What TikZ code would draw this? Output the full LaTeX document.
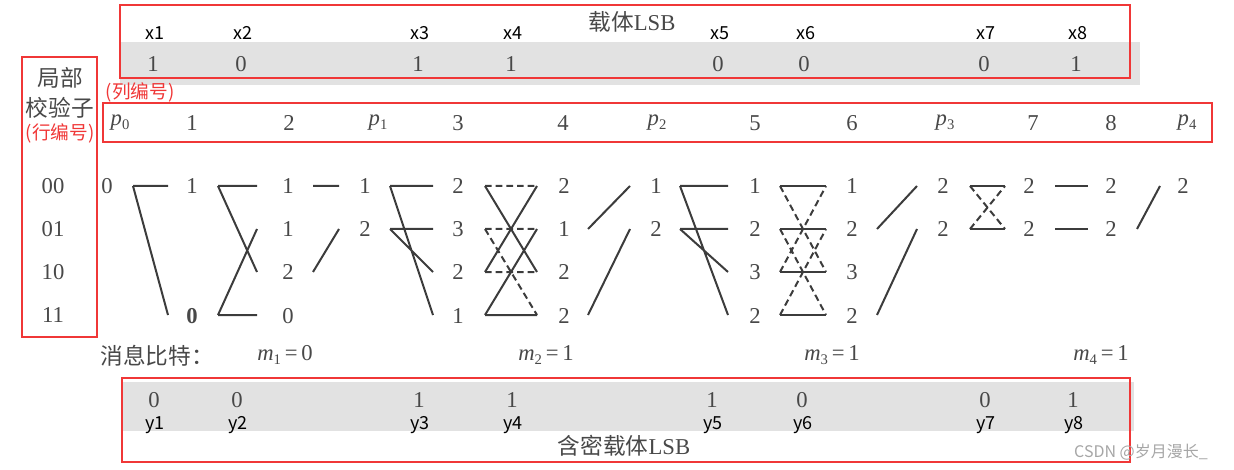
\documentclass[tikz,border=0pt]{standalone}
\usepackage{fontspec}
\setmainfont{Liberation Serif}
\newfontfamily\cjk{Noto Sans CJK SC}
\definecolor{ink}{RGB}{72,72,72}
\definecolor{lineink}{RGB}{60,60,60}
\definecolor{band}{RGB}{226,226,226}
\definecolor{redbox}{RGB}{240,55,55}
\newcommand{\pp}[1]{\textit{p}\raisebox{-0.35ex}{\fontsize{11}{11}\selectfont #1}}
\newcommand{\mm}[2]{\textit{m}\raisebox{-0.45ex}{\fontsize{11}{11}\selectfont #1}\,=\,#2}
\begin{document}
\begin{tikzpicture}[x=0.75pt,y=-0.75pt,
  dig/.style={font=\fontsize{17}{17}\selectfont, text=ink, inner sep=0pt},
  lab/.style={font=\cjk\fontsize{13.5}{14}\selectfont, text=black, inner sep=0pt},
  redlab/.style={font=\cjk\fontsize{14}{14}\selectfont, text=redbox, inner sep=0pt},
  title/.style={font=\cjk\fontsize{17}{17}\selectfont, text=ink, inner sep=0pt},
  box/.style={draw=redbox, line width=1pt},
  tr/.style={draw=lineink, line width=1.5pt},
  trd/.style={tr, dash pattern=on 5pt off 3pt},
]
\useasboundingbox (0,0) rectangle (1234,470);
% gray bands
\fill[band] (120,42) rectangle (1140,85);
\fill[band] (122,382) rectangle (1134,431);
% red boxes
\draw[box] (120,5) rectangle (1130,78);
\draw[box] (103,103) rectangle (1212,142);
\draw[box] (22,57) rectangle (97,337);
\draw[box] (122,378) rectangle (1130,462);

% top carrier
\node[title] (ttop) at (632,22) {载体\rmfamily LSB};
\foreach \i/\xx/\v in {1/155/1,2/243/0,3/420/1,4/513/1,5/720/0,6/806/0,7/986/0,8/1078/1}{
  \node[lab] (x\i) at (\xx,33) {x\i};
  \node[dig] (xv\i) at (\xx-2,64) {\v};
}

% left labels
\node[title] (lj1) at (60,78) {局部};
\node[title] (lj2) at (60,108) {校验子};
\node[redlab] (hang) at (60,133) {(行编号)};
\node[redlab] (lie) at (140,92) {(列编号)};
\foreach \i/\t/\yy in {0/00/186,1/01/229,2/10/272,3/11/315}{
  \node[dig] (row\i) at (53,\yy) {\t};
}

% header
\foreach \n/\xx/\t in {h0/120/\pp{0},h1/192/1,h2/289/2,h3/378/\pp{1},h4/458/3,h5/563/4,h6/657/\pp{2},h7/755/5,h8/852/6,h9/945/\pp{3},h10/1033/7,h11/1111/8,h12/1187/\pp{4}}{
  \node[dig] (\n) at (\xx,123) {\t};
}

% trellis values
\node[dig] (p0a) at (107,186) {0};
\node[dig] (c1a) at (192,186) {1};
\node[dig] (c1d) at (192,316) {\bfseries 0};
\foreach \xx/\c/\a/\b/\cc/\d in {288/c2/1/1/2/0, 458/c3/2/3/2/1, 564/c4/2/1/2/2, 755/c5/1/2/3/2, 852/c6/1/2/3/2}{
  \node[dig] (\c a) at (\xx,186) {\a};
  \node[dig] (\c b) at (\xx,229) {\b};
  \node[dig] (\c c) at (\xx,272) {\cc};
  \node[dig] (\c d) at (\xx,316) {\d};
}
\foreach \xx/\c/\a/\b in {365/p1/1/2, 656/p2/1/2, 943/p3/2/2, 1029/c7/2/2, 1111/c8/2/2}{
  \node[dig] (\c a) at (\xx,186) {\a};
  \node[dig] (\c b) at (\xx,229) {\b};
}
\node[dig] (p4a) at (1183,186) {2};

% trellis anchor coordinates
\foreach \g/\xl/\xr in {A/133/168, B/218/257, C/313/339, D/390/433, E/485/537, F/588/630, G/680/728, H/780/826, I/877/917, J/970/1005, K/1055/1088, L/1137/1160}{
  \foreach \r/\yy in {0/186,1/229,2/272,3/315}{
    \coordinate (\g L\r) at (\xl,\yy);
    \coordinate (\g R\r) at (\xr,\yy);
  }
}
\draw[tr] (AL0) -- (AR0) (AL0) -- (AR3);
\draw[tr] (BL0) -- (BR0) (BL0) -- (BR2) (BL3) -- (BR1) (BL3) -- (BR3);
\draw[tr] (CL0) -- (CR0) (CL2) -- (CR1);
\draw[tr] (DL0) -- (DR0) (DL0) -- (DR3) (DL1) -- (DR1) (DL1) -- (DR2);
\draw[trd] (EL0) -- (ER0) (EL1) -- (ER1) (EL1) -- (ER3) (EL2) -- (ER2);
\draw[tr] (EL0) -- (ER2) (EL2) -- (ER0) (EL3) -- (ER1) (EL3) -- (ER3);
\draw[tr] (FL1) -- (FR0) (FL3) -- (FR1);
\draw[tr] (GL0) -- (GR0) (GL0) -- (GR3) (GL1) -- (GR1) (GL1) -- (GR2);
\draw[tr] (HL0) -- (HR0) (HL1) -- (HR1) (HL2) -- (HR2) (HL3) -- (HR3);
\draw[trd] (HL0) -- (HR2) (HL2) -- (HR0) (HL1) -- (HR3) (HL3) -- (HR1);
\draw[tr] (IL1) -- (IR0) (IL3) -- (IR1);
\draw[tr] (JL0) -- (JR0) (JL1) -- (JR1);
\draw[trd] (JL0) -- (JR1) (JL1) -- (JR0);
\draw[tr] (KL0) -- (KR0) (KL1) -- (KR1);
\draw[tr] (LL1) -- (LR0);

% message bits
\node[title] (msg) at (157,356) {消息比特：};
\node[dig] (m1) at (285,355) {\mm{1}{0}};
\node[dig] (m2) at (546,355) {\mm{2}{1}};
\node[dig] (m3) at (832,355) {\mm{3}{1}};
\node[dig] (m4) at (1101,355) {\mm{4}{1}};

% bottom stego
\foreach \i/\xx/\v in {1/155/0,2/238/0,3/420/1,4/513/1,5/713/1,6/803/0,7/986/0,8/1074/1}{
  \node[dig] (yv\i) at (\xx-1,400) {\v};
  \node[lab] (y\i) at (\xx,425) {y\i};
}
\node[title] (tbot) at (624,446) {含密载体\rmfamily LSB};
\node[font=\cjk\fontsize{12}{12}\selectfont, text=black!35, inner sep=0pt] (wm) at (1141,452) {CSDN @岁月漫长\_};
\end{tikzpicture}
\end{document}
